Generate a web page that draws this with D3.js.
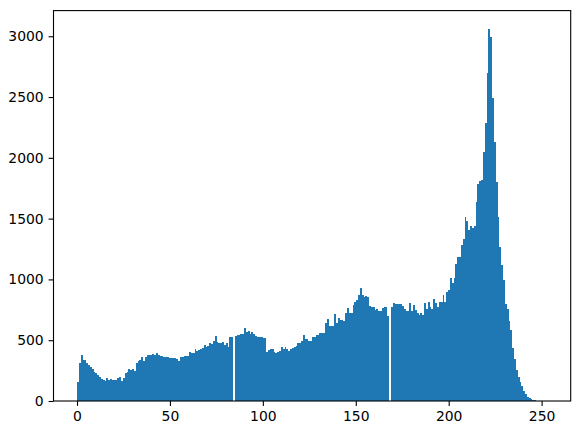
<!DOCTYPE html>
<html lang="en">
<head>
    <meta charset="UTF-8">
    <title>Histogram</title>
    <script src="https://d3js.org/d3.v7.min.js"></script>
    <style>
        body { margin: 0; background: #fff; }
        svg { display: block; }
        .tick text { font-family: "DejaVu Sans", sans-serif; font-size: 13.9px; fill: #000; }
        .tick line { stroke: #000; stroke-width: 1.1px; }
        .frame { fill: none; stroke: #000; stroke-width: 1.1px; }
        .bar { fill: #1f77b4; }
    </style>
</head>
<body>
    <svg id="chart" width="579" height="429"></svg>
    <script>
        // 256 bins over pixel values 0..253 (bin width 253/256, so bins 85 and 170 are empty)
        const valueMin = 0;
        const valueMax = 253;
        const binCount = 256;
        const counts = [
            159,310,378,337,337,310,296,277,260,241,227,214,195,181,173,165,
            187,173,181,173,173,173,187,200,167,191,227,241,260,255,262,245,
            310,325,340,362,330,365,378,378,380,387,375,392,380,370,370,365,
            365,360,355,351,351,355,345,332,360,365,368,370,372,406,392,395,
            425,414,418,425,440,461,447,450,480,470,495,535,485,480,480,488,
            461,480,441,530,524,0,535,540,540,548,548,598,570,578,548,565,
            548,535,529,529,524,516,516,406,420,425,425,406,392,406,411,447,
            425,447,425,414,425,433,442,450,475,480,496,543,507,507,496,496,
            529,529,543,543,557,557,562,639,672,617,617,617,716,639,685,666,
            666,660,727,762,727,727,790,817,831,872,927,872,858,864,858,781,
            776,776,749,754,743,743,762,771,771,699,0,771,803,795,795,798,
            798,781,754,743,743,803,743,790,749,727,707,727,707,803,754,817,
            776,754,836,803,771,817,815,872,817,899,910,1009,973,1009,1127,1187,
            1187,1283,1330,1511,1483,1407,1440,1425,1440,1640,1785,1812,1818,2051,2284,2695,
            3058,2997,2490,2133,1804,1516,1269,1119,995,800,760,655,580,440,345,255,
            195,155,120,80,58,36,22,14,9,6,4,3,2,2,1,1
        ];
        const xTicks = [0, 50, 100, 150, 200, 250];
        const yTicks = [0, 500, 1000, 1500, 2000, 2500, 3000];

        const plotLeft = 53.5, plotRight = 570.7, plotTop = 10.6, plotBottom = 401;
        const svg = d3.select('#chart');

        const binW = (valueMax - valueMin) / binCount;
        const bins = counts.map((c, i) => ({
            x0: valueMin + i * binW,
            x1: valueMin + (i + 1) * binW,
            count: c
        }));

        // matplotlib style 5% margins on x, 5% headroom on y
        const pad = 0.05 * (valueMax - valueMin);
        const x = d3.scaleLinear()
            .domain([valueMin - pad, valueMax + pad])
            .range([plotLeft, plotRight]);
        const y = d3.scaleLinear()
            .domain([0, d3.max(counts) * 1.05])
            .range([plotBottom, plotTop]);

        svg.append('g')
            .selectAll('rect')
            .data(bins.filter(d => d.count > 0))
            .enter().append('rect')
            .attr('class', 'bar')
            .attr('shape-rendering', 'crispEdges')
            .attr('x', d => x(d.x0))
            .attr('width', d => x(d.x1) - x(d.x0))
            .attr('y', d => y(d.count))
            .attr('height', d => y(0) - y(d.count));

        const xAxis = svg.append('g')
            .attr('transform', `translate(0,${plotBottom})`)
            .call(d3.axisBottom(x).tickValues(xTicks).tickFormat(d3.format('d'))
                .tickSize(4.9).tickPadding(4.9));
        xAxis.select('.domain').remove();

        const yAxis = svg.append('g')
            .attr('transform', `translate(${plotLeft},0)`)
            .call(d3.axisLeft(y).tickValues(yTicks).tickFormat(d3.format('d'))
                .tickSize(4.9).tickPadding(4.9));
        yAxis.select('.domain').remove();

        svg.append('rect')
            .attr('class', 'frame')
            .attr('x', plotLeft)
            .attr('y', plotTop)
            .attr('width', plotRight - plotLeft)
            .attr('height', plotBottom - plotTop);
    </script>
</body>
</html>
